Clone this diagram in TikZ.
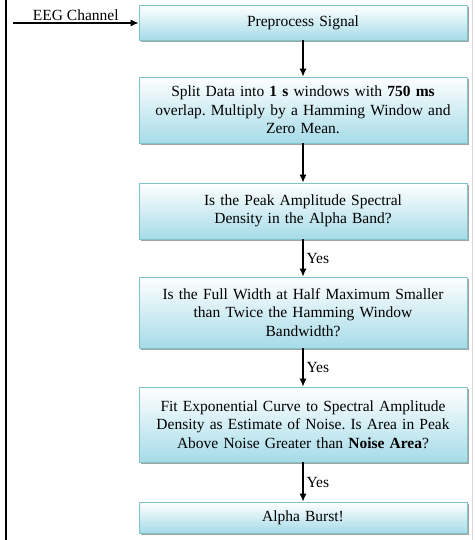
\documentclass[tikz,border=0pt]{standalone}
\usepackage{fontspec}
\setmainfont{Liberation Serif}
\usetikzlibrary{arrows.meta,shadows}
\definecolor{boxline}{rgb}{0.50,0.77,0.78}
\definecolor{boxblue}{rgb}{0.65,0.86,0.91}
\frenchspacing

\begin{document}
\begin{tikzpicture}[x=1pt,y=1pt,
  stepbox/.style={draw=boxline, line width=0.8pt, top color=white, bottom color=boxblue,
    minimum width=328pt, text width=324pt, align=center, inner sep=0pt,
    font=\fontsize{15.5}{18.5}\selectfont,
    drop shadow={shadow xshift=2pt, shadow yshift=-2pt, fill=gray!80, opacity=.9}},
  flow/.style={-{Latex[length=8pt,width=7pt]}, line width=1.2pt},
  lbl/.style={font=\fontsize{15.5}{18.5}\selectfont, inner sep=1pt}]
\useasboundingbox (0,0) rectangle (474,-540);
\draw [line width=1.6pt] (6,0) -- (6,-540);
\draw [line width=0.6pt, gray!30] (472.5,0) -- (472.5,-540);
\node[stepbox, minimum height=35pt] (pre) at (303,-22.5) {Preprocess Signal};
\node[stepbox, minimum height=66pt] (split) at (303,-110) {Split Data into \textbf{1 s} windows with \textbf{750 ms}\\ overlap. Multiply by a Hamming Window and\\ Zero Mean.};
\node[stepbox, minimum height=56pt] (peak) at (303,-211) {Is the Peak Amplitude Spectral\\ Density in the Alpha Band?};
\node[stepbox, minimum height=71pt] (fwhm) at (303,-312.5) {Is the Full Width at Half Maximum Smaller\\ than Twice the Hamming Window\\ Bandwidth?};
\node[stepbox, minimum height=75pt] (fit) at (303,-424.5) {Fit Exponential Curve to Spectral Amplitude\\ Density as Estimate of Noise. Is Area in Peak\\ Above Noise Greater than \textbf{Noise Area}?};
\node[stepbox, minimum height=31pt] (burst) at (303,-517.5) {Alpha Burst!};
\coordinate (eeg) at (13,-23);
\draw [flow] (eeg) -- (pre.west |- eeg) node[lbl, midway, above, inner sep=2pt] (eeglbl) {EEG Channel};
\draw [flow] (pre) -- (split);
\draw [flow] (split) -- (peak);
\draw [flow] (peak) -- node[lbl, right, xshift=2pt] (yes1) {Yes} (fwhm);
\draw [flow] (fwhm) -- node[lbl, right, xshift=2pt] (yes2) {Yes} (fit);
\draw [flow] (fit) -- node[lbl, right, xshift=2pt] (yes3) {Yes} (burst);
\end{tikzpicture}
\end{document}
